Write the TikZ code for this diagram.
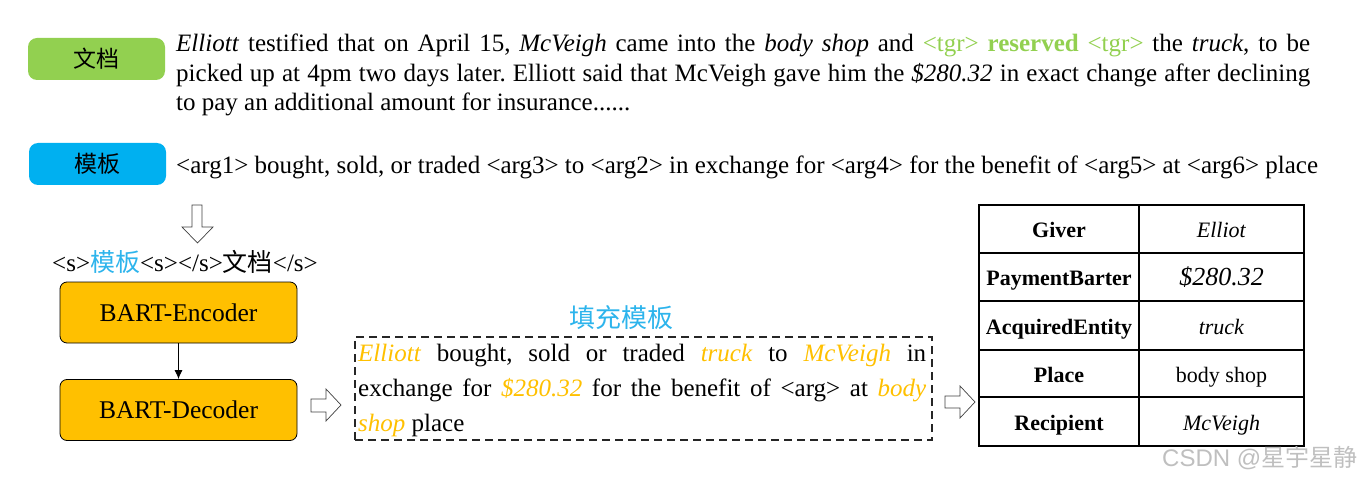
\documentclass[tikz,border=0pt]{standalone}
\usepackage{fontspec}
\setmainfont{Liberation Serif}
\newfontfamily\cjk{Noto Sans CJK SC}
\newfontfamily\wmfont{Liberation Sans}
\usetikzlibrary{arrows.meta}
\definecolor{docgreen}{HTML}{92D050}
\definecolor{tplblue}{HTML}{00B0F0}
\definecolor{bartorange}{HTML}{FFC000}
\definecolor{filltext}{HTML}{FFC000}
\definecolor{cjkblue}{HTML}{2DB4EC}
\newcommand{\fl}[1]{\textcolor{filltext}{\textit{#1}}}
\frenchspacing
\begin{document}
\begin{tikzpicture}[x=1pt,y=-1pt,
  tag/.style={rounded corners=9pt, minimum width=137pt, minimum height=42pt, inner sep=0pt, font=\cjk\fontsize{23}{26}\selectfont},
  bart/.style={draw=black, line width=0.8pt, fill=bartorange, rounded corners=7pt, minimum width=237pt, minimum height=61pt, inner sep=0pt, font=\fontsize{25.5}{28}\selectfont},
  body/.style={inner sep=0pt, font=\fontsize{25}{29.5}\selectfont},
  hollow/.style={draw=black!75, line width=0.7pt, fill=white, line join=miter},
  cell/.style={draw=black, line width=1.3pt, inner sep=0pt, text height=22pt, text depth=5pt, font=\fontsize{22}{24}\selectfont},
  lcell/.style={cell, minimum width=160pt, font=\bfseries\fontsize{22}{24}\selectfont},
  rcell/.style={cell, minimum width=165pt}
]
\useasboundingbox (0,0) rectangle (1372,478);

% tags
\node[tag, fill=docgreen] (doctag) at (96.5,59) {文档};
\node[tag, fill=tplblue] (tpltag) at (97.5,164) {模板};

% document text
\node[body, anchor=north west, text width=1134pt, align=justify] (doctext) at (176,34)
{\textit{Elliott} testified that on April 15, \textit{McVeigh} came into the \textit{body shop} and \textcolor{docgreen}{<tgr>} \textcolor{docgreen}{\textbf{reserved}} \textcolor{docgreen}{<tgr>} the \textit{truck}, to be\linebreak
picked up at 4pm two days later. Elliott said that McVeigh gave him the \textit{\$280.32} in exact change after declining\linebreak
to pay an additional amount for insurance......};

% template text
\node[body, anchor=base west] (tpltext) at (176,174)
{<arg1> bought, sold, or traded <arg3> to <arg2> in exchange for <arg4> for the benefit of <arg5> at <arg6> place};

% down hollow arrow
\draw[hollow] (192,205) -- (202,205) -- (202,227) -- (213,227) -- (197.5,243) -- (182,227) -- (192,227) -- cycle;

% input line
\node[body, anchor=base west] (inputline) at (52,271)
{<s>\textcolor{cjkblue}{\cjk 模板}<s></s>{\cjk 文档}</s>};

% BART boxes
\node[bart] (enc) at (178.5,312.5) {BART-Encoder};
\node[bart] (dec) at (178.5,410) {BART-Decoder};
\draw[-{Latex[length=9pt,width=8pt]}, line width=0.9pt] (enc.south) -- (dec.north);

% right hollow arrow 1
\draw[hollow] (311,399) -- (326,399) -- (326,389) -- (341,405) -- (326,421) -- (326,412) -- (311,412) -- cycle;

% filled template
\node[anchor=center, inner sep=0pt, text=cjkblue, font=\cjk\fontsize{26}{30}\selectfont] (filltitle) at (621,318) {填充模板};
\node[draw=black!85, line width=1.3pt, dash pattern=on 8pt off 5pt, minimum width=577pt, minimum height=103pt, inner sep=0pt] (fillbox) at (643.5,388.5) {};
\node[body, anchor=north west, text width=568pt, align=justify, font=\fontsize{25}{35}\selectfont] (filltext) at (358,344)
{\fl{Elliott} bought, sold or traded \fl{truck} to \fl{McVeigh} in\linebreak
exchange for \fl{\$280.32} for the benefit of <arg> at \fl{body}\linebreak
\fl{shop} place};

% right hollow arrow 2
\draw[hollow] (945,396) -- (960,396) -- (960,386) -- (975,402) -- (960,418) -- (960,408) -- (945,408) -- cycle;

% table
\node[lcell, minimum height=48pt] (g1) at (1059,229) {Giver};
\node[rcell, minimum height=48pt] (g2) at (1221.5,229) {\textit{Elliot}};
\node[lcell, minimum height=48pt] (p1) at (1059,277) {PaymentBarter};
\node[rcell, minimum height=48pt, font=\fontsize{26}{28}\selectfont] (p2) at (1221.5,277) {\textit{\$280.32}};
\node[lcell, minimum height=49pt] (a1) at (1059,325.5) {AcquiredEntity};
\node[rcell, minimum height=49pt] (a2) at (1221.5,325.5) {\textit{truck}};
\node[lcell, minimum height=47pt] (pl1) at (1059,373.5) {Place};
\node[rcell, minimum height=47pt] (pl2) at (1221.5,373.5) {body shop};
\node[lcell, minimum height=49pt] (r1) at (1059,421.5) {Recipient};
\node[rcell, minimum height=49pt] (r2) at (1221.5,421.5) {\textit{McVeigh}};

% watermark text
\node[anchor=west, inner sep=0pt, text=black!25, font=\wmfont\fontsize{24}{28}\selectfont] (wm) at (1162,458) {CSDN @{\cjk 星宇星静}};
\end{tikzpicture}
\end{document}
